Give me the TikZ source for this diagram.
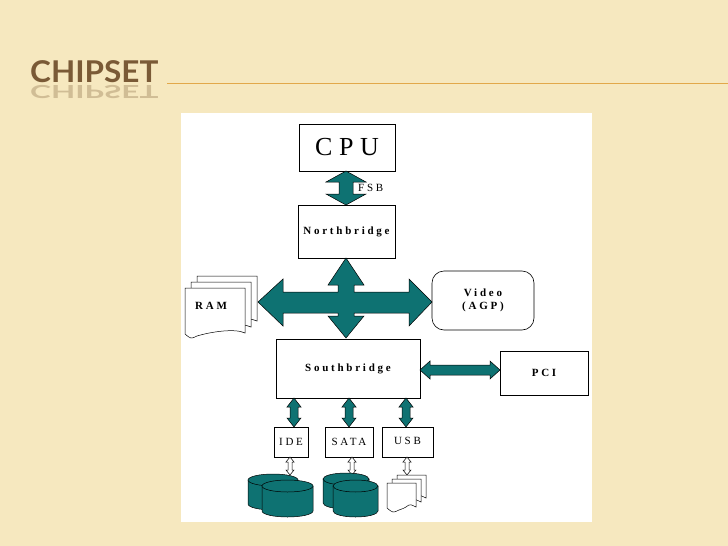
\documentclass[tikz,border=0pt]{standalone}
\usepackage{fontspec}
\setmainfont{Liberation Serif}
\newfontfamily\spc[LetterSpace=25]{Liberation Serif}
\newfontfamily\ttl{Lato}
\usetikzlibrary{positioning}
\definecolor{bgc}{HTML}{F6E8BF}
\definecolor{tealc}{HTML}{0E7272}
\definecolor{ttlc}{HTML}{7A5A36}
\definecolor{linec}{HTML}{E2A84A}
\tikzset{
  box/.style={draw=black,line width=0.6pt,fill=white,inner sep=0pt,font=\spc\bfseries\fontsize{11}{13}\selectfont},
  arr/.style={draw=black,line width=0.5pt,fill=tealc},
  harr/.style={draw=black,line width=0.5pt,fill=white},
  doc/.style={draw=black,line width=0.5pt,fill=white},
}
\newcommand{\varr}[7][arr]{\path[#1] (#2,#3) -- (#2+#6,#3+#7) -- (#2+#5,#3+#7) -- (#2+#5,#4-#7) -- (#2+#6,#4-#7) -- (#2,#4) -- (#2-#6,#4-#7) -- (#2-#5,#4-#7) -- (#2-#5,#3+#7) -- (#2-#6,#3+#7) -- cycle;}
\newcommand{\harrow}[7][arr]{\path[#1] (#3,#2) -- (#3+#7,#2+#6) -- (#3+#7,#2+#5) -- (#4-#7,#2+#5) -- (#4-#7,#2+#6) -- (#4,#2) -- (#4-#7,#2-#6) -- (#4-#7,#2-#5) -- (#3+#7,#2-#5) -- (#3+#7,#2-#6) -- cycle;}
\newcommand{\sheet}[4]{\path[doc] (#1,#2) -- (#3,#2) -- (#3,#4-3) .. controls (#3-10,#4-8) and (#1+25,#4-4) .. (#1+12,#4) .. controls (#1+6,#4+3) .. (#1,#4-2) -- cycle;}
\newcommand{\cyl}[4]{\path[arr] (#1,#2) -- (#1,#4) arc[start angle=180,end angle=0,x radius={(#3-#1)/2},y radius=6] -- (#3,#2) -- cycle;
 \path[arr] ({(#1+#3)/2},#2) ellipse[x radius={(#3-#1)/2},y radius=6];}
\begin{document}
\begin{tikzpicture}[x=1pt,y=-1pt]
\fill[bgc] (0,0) rectangle (728,546);
\useasboundingbox (0,0) rectangle (728,546);
\node[anchor=base west,text=ttlc,xscale=1.05,font=\ttl\bfseries\fontsize{30}{32}\selectfont,inner sep=0] (title) at (30,82) {CHIPSET};
\node[anchor=base west,text=ttlc,opacity=0.3,xscale=1.05,yscale=-0.6,font=\ttl\bfseries\fontsize{30}{32}\selectfont,inner sep=0] (refl) at (30,85) {CHIPSET};
\draw[linec,line width=0.8pt] (167,83) -- (728,83);
\fill[white] (181,113) rectangle (592,522);
\node[box,minimum width=96pt,minimum height=47pt,font=\spc\fontsize{26}{28}\selectfont] (cpu) at (347,147.5) {CPU};
\node[box,minimum width=97pt,minimum height=53pt] (nb) at (346.5,231.5) {Northbridge};
\node[box,minimum width=144pt,minimum height=59pt] (sb) at (348,368.5) {Southbridge};
\node[box,minimum width=88pt,minimum height=44pt] (pci) at (544,373) {PCI};
\node[box,rounded corners=12pt,minimum width=102pt,minimum height=59pt,align=center] (vid) at (483,300.5) {Video\\(AGP)};
\node[box,minimum width=34pt,minimum height=30pt,font=\spc\fontsize{11}{13}\selectfont] (ide) at (291,442) {IDE};
\node[box,minimum width=48pt,minimum height=30pt,font=\spc\fontsize{11}{13}\selectfont] (sata) at (349,442) {SATA};
\node[box,minimum width=51pt,minimum height=30pt,font=\spc\fontsize{11}{13}\selectfont,anchor=center] (usb) at (407.5,442) {\raisebox{3pt}{USB}};
\sheet{197}{276}{257}{324}
\sheet{191}{282}{251}{330}
\sheet{185}{288}{245}{336}
\node[font=\spc\bfseries\fontsize{11}{12}\selectfont] (ram) at (211,306) {RAM};
\varr{346}{171}{205}{7}{20}{11}
\node[anchor=west,font=\spc\fontsize{11}{13}\selectfont,inner sep=1pt] (fsb) at (357,188) {FSB};
\path[arr] (346,258) -- (364,285) -- (354,285) -- (354,292) -- (409,292) -- (409,279) -- (432,302) -- (409,326) -- (409,313) -- (354,313) -- (354,316) -- (364,316) -- (346,338) -- (328,316) -- (338,316) -- (338,313) -- (283,313) -- (283,326) -- (258,302) -- (283,279) -- (283,292) -- (338,292) -- (338,285) -- (328,285) -- cycle;
\harrow{370}{420}{500}{5}{9}{10}
\varr{294}{398}{427}{4}{7}{9}
\varr{349}{398}{427}{4}{7}{9}
\varr{406}{398}{427}{4}{7}{9}
\varr[harr]{290}{457}{475}{2}{4}{5}
\varr[harr]{352}{457}{475}{2}{4}{5}
\varr[harr]{407}{457}{475}{2}{4}{5}
\cyl{248}{480}{298}{504}
\cyl{262}{486}{313}{511}
\cyl{323}{479}{369}{503}
\cyl{333}{486}{378}{511}
\sheet{397}{475}{426}{501}
\sheet{392}{479}{421}{505}
\sheet{387}{483}{416}{510}
\end{tikzpicture}
\end{document}
